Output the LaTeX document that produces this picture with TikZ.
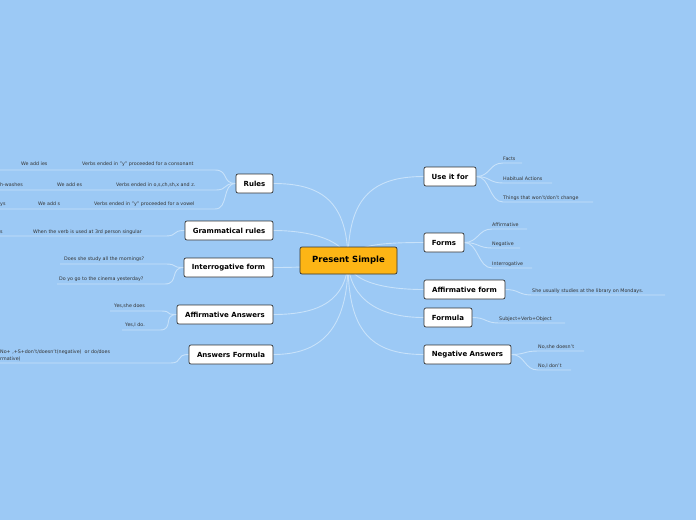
\documentclass[tikz,border=0pt]{standalone}
\usepackage{fontspec}
\setmainfont{DejaVu Sans}
\usetikzlibrary{calc,backgrounds}
\definecolor{bg}{HTML}{9CC9F5}
\definecolor{ln}{HTML}{C8E2FA}
\definecolor{orng}{HTML}{FDB515}
\definecolor{txt}{HTML}{333333}
\newcommand\rleaf[5]{% parent, x, yline, xend, text
 \coordinate (t) at (#2,#3);
 \begin{pgfonlayer}{background}
 \draw[con] (#1.east) .. controls +(14,0) and ($(t)+(-14,0)$) .. (t) -- (#4,#3);
 \end{pgfonlayer}
 \node[leaf] at (#2,#3-3) {#5};}
\newcommand\lleaf[4]{% parent, xbegin, yline, xstart
 \coordinate (t) at (#2,#3);
 \begin{pgfonlayer}{background}
 \draw[con] (#1.west) .. controls +(-14,0) and ($(t)+(14,0)$) .. (t) -- (#4,#3);
 \end{pgfonlayer}}
\newcommand\lt[3]{\node[leaf] at (#1,#2) {#3};}
\begin{document}
\begin{tikzpicture}[x=1pt,y=-1pt,
 box/.style={draw=black!80,fill=white,rounded corners=2pt,line width=0.7pt,font=\bfseries\fontsize{7}{8}\selectfont,inner sep=0pt,minimum height=19pt},
 leaf/.style={font=\fontsize{4.8}{5.6}\selectfont,text=txt,inner sep=0pt,anchor=base west},
 con/.style={draw=ln,line width=0.9pt}]
\clip (0,0) rectangle (696,520);
\node[box,fill=orng,minimum width=97pt,minimum height=27pt,font=\bfseries\fontsize{8.5}{9}\selectfont] (c) at (348.5,260.5) {Present Simple};
\node[box,minimum width=52pt] (use) at (450,176.5) {Use it for};
\node[box,minimum width=40pt] (forms) at (444,242.5) {Forms};
\node[box,minimum width=81pt] (aff) at (464.5,289.5) {Affirmative form};
\node[box,minimum width=48pt] (form) at (448,317.5) {Formula};
\node[box,minimum width=87pt] (neg) at (467.5,354.5) {Negative Answers};
\node[box,minimum width=37pt] (rules) at (254.5,183.5) {Rules};
\node[box,minimum width=88pt] (gram) at (229,230.5) {Grammatical rules};
\node[box,minimum width=89pt] (inter) at (228.5,267.5) {Interrogative form};
\node[box,minimum width=96pt] (affa) at (225,314.5) {Affirmative Answers};
\node[box,minimum width=84pt] (ansf) at (231,354.5) {Answers Formula};
\coordinate (cc) at (348,262);
\begin{pgfonlayer}{background}
\fill[bg] (0,0) rectangle (696,520);
\draw[con] (cc) .. controls (348,200) and (370,176.5) .. (use.west);
\draw[con] (cc) .. controls (350,245) and (380,242.5) .. (forms.west);
\draw[con] (cc) .. controls (350,280) and (380,289.5) .. (aff.west);
\draw[con] (cc) .. controls (350,300) and (380,317.5) .. (form.west);
\draw[con] (cc) .. controls (348,330) and (370,354.5) .. (neg.west);
\draw[con] (cc) .. controls (348,200) and (320,183.5) .. (rules.east);
\draw[con] (cc) .. controls (346,240) and (310,230.5) .. (gram.east);
\draw[con] (cc) .. controls (346,265) and (310,267.5) .. (inter.east);
\draw[con] (cc) .. controls (346,300) and (320,314.5) .. (affa.east);
\draw[con] (cc) .. controls (348,330) and (320,354.5) .. (ansf.east);
\end{pgfonlayer}
\rleaf{use}{503}{163}{522}{Facts}
\rleaf{use}{503}{183}{552}{Habitual Actions}
\rleaf{use}{503}{202}{593}{Things that won't/don't change}
\rleaf{forms}{492}{229}{527}{Affirmative}
\rleaf{forms}{492}{248}{520}{Negative}
\rleaf{forms}{492}{268}{532}{Interrogative}
\rleaf{aff}{532}{295}{665}{She usually studies at the library on Mondays.}
\rleaf{form}{499}{323}{565}{Subject+Verb+Object}
\rleaf{neg}{538}{351}{584}{No,she doesn't}
\rleaf{neg}{538}{370}{571}{No,I don't}
\lleaf{rules}{215}{170}{-5}
\lt{82}{165}{Verbs ended in "y" proceeded for a consonant}
\lt{21}{165}{We add ies}
\lleaf{rules}{215}{190}{-5}
\lt{0}{186}{h-washes}
\lt{57}{186}{We add es}
\lt{116}{186}{Verbs ended in o,s,ch,sh,x and z.}
\lleaf{rules}{215}{209}{-5}
\lt{0}{205}{ys}
\lt{38}{205}{We add s}
\lt{94}{205}{Verbs ended in "y" proceeded for a vowel}
\lleaf{gram}{165}{236}{-5}
\lt{0}{233}{s}
\lt{33}{233}{When the verb is used at 3rd person singular}
\lleaf{inter}{165}{264}{60}
\lt{64}{260}{Does she study all the mornings?}
\lleaf{inter}{165}{284}{57}
\lt{59}{280}{Do yo go to the cinema yesterday?}
\lleaf{affa}{160}{311}{110}
\lt{114}{307}{Yes,she does}
\lleaf{affa}{160}{330}{122}
\lt{125}{326}{Yes,I do.}
\lleaf{ansf}{170}{363}{-5}
\lt{0}{353}{No+ ,+S+don't/doesn't(negative)\ \ or do/does}
\lt{0}{360}{rmative)}
\end{tikzpicture}
\end{document}
